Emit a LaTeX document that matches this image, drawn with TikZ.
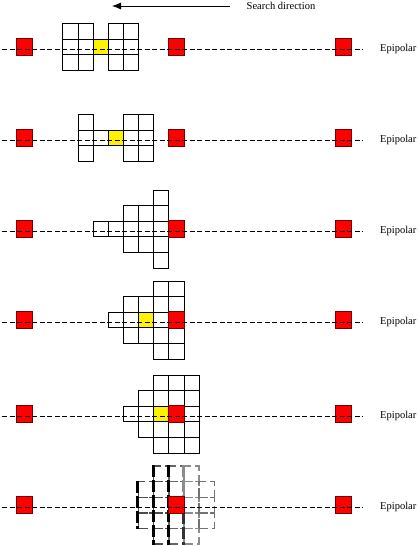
\documentclass[tikz,border=0pt]{standalone}
\usepackage{fontspec}
\setmainfont{Liberation Serif}
\usetikzlibrary{arrows.meta}

\begin{document}
\begin{tikzpicture}[x=1pt, y=-1pt, every node/.style = {shape=rectangle, inner sep=0pt}]
	\tikzset{ cell/.style = {draw, line width=0.8pt, minimum width=15.15pt, minimum height=15.6pt} }
	\tikzset{ match/.style = {cell, fill = yellow} }
	\tikzset{ feature/.style = {draw = red!45!black, fill = red, line width=0.8pt, minimum size=16.5pt} }
	\tikzset{ smear/.style = {cell, line width=1.4pt, dash pattern=on 9pt off 4pt} }
	\tikzset{ smearbar/.style = {line width=3pt, dash pattern=on 12pt off 3pt} }
	\tikzset{ epiline/.style = {line width=0.7pt, dash pattern=on 5pt off 2.5pt} }
	\tikzset{ caption/.style = {font=\fontsize{10.5}{12}\selectfont} }
	\useasboundingbox (0,0) rectangle (420,546);

	% search direction
	\node [caption] (dirlab) at (281,6) {Search direction};
	\coordinate (dirstart) at (230,6);
	\coordinate (dirend) at (112,6);
	\draw [-{Latex[length=9pt,width=7pt]}, line width=0.8pt] (dirstart) -- (dirend);

	% bands: number / centre of middle row / yellow column / columns with row ranges
	\foreach \b/\yc/\yel/\cells in {
		1/47/2/{0/-1/1,1/-1/1,2/0/0,3/-1/1,4/-1/1},
		2/138/3/{1/-1/1,2/0/0,3/0/0,4/-1/1,5/-1/1},
		3/229/-1/{2/0/0,3/0/0,4/-1/1,5/-1/1,6/-2/2},
		4/320/5/{3/0/0,4/-1/1,5/-1/1,6/-2/2,7/-2/2},
		5/414/6/{4/0/0,5/-1/1,6/-2/2,7/-2/2,8/-2/2}}
	{
		\foreach \c/\lo/\hi in \cells {
			\foreach \r in {\lo,...,\hi} {
				\pgfmathtruncatemacro\rr{\r+2}
				\node [cell] (cell-\b-\c-\rr) at ({70.4+15.15*\c}, {\yc+15.6*\r}) {};
			}
		}
		\ifnum\yel>-1
			\node [match] (match-\b) at ({70.4+15.15*\yel}, \yc) {};
		\fi
	}

	% last band, smeared window
	\foreach \c/\lo/\hi/\shade in {5/-1/1/70, 6/-2/2/70, 7/-2/2/60, 8/-2/2/45, 9/-1/1/55} {
		\foreach \r in {\lo,...,\hi} {
			\pgfmathtruncatemacro\rr{\r+2}
			\node [smear, draw=black!\shade] (cell-6-\c-\rr) at ({70.4+15.15*\c}, {505+15.6*\r}) {};
		}
	}
	\draw [smearbar] (cell-6-5-1.north west) -- (cell-6-5-3.south west);
	\draw [smearbar] (cell-6-6-0.north west) -- (cell-6-6-4.south west);
	\draw [smearbar] (cell-6-7-0.north west) -- (cell-6-7-4.south west);
	\draw [smearbar, black!80] (cell-6-8-2.north west) -- (cell-6-8-4.south west);
	\draw [smearbar, black!45] (cell-6-8-0.north west) -- (cell-6-8-1.south west);

	% features and epipolar lines
	\foreach \b/\yc in {1/47, 2/138, 3/229, 4/320, 5/414, 6/505} {
		\node [feature] (feat-\b-l) at (24.5, \yc) {};
		\node [feature] (feat-\b-m) at (176.5, \yc) {};
		\node [feature] (feat-\b-r) at (343.5, \yc) {};
		\coordinate (start-\b) at (2, \yc+2);
		\node [caption, anchor=west] (lab-\b) at (380, \yc+2) {Epipolar};
		\draw [epiline, shorten >=17pt] (start-\b) -- (lab-\b.west);
	}
\end{tikzpicture}
\end{document}
